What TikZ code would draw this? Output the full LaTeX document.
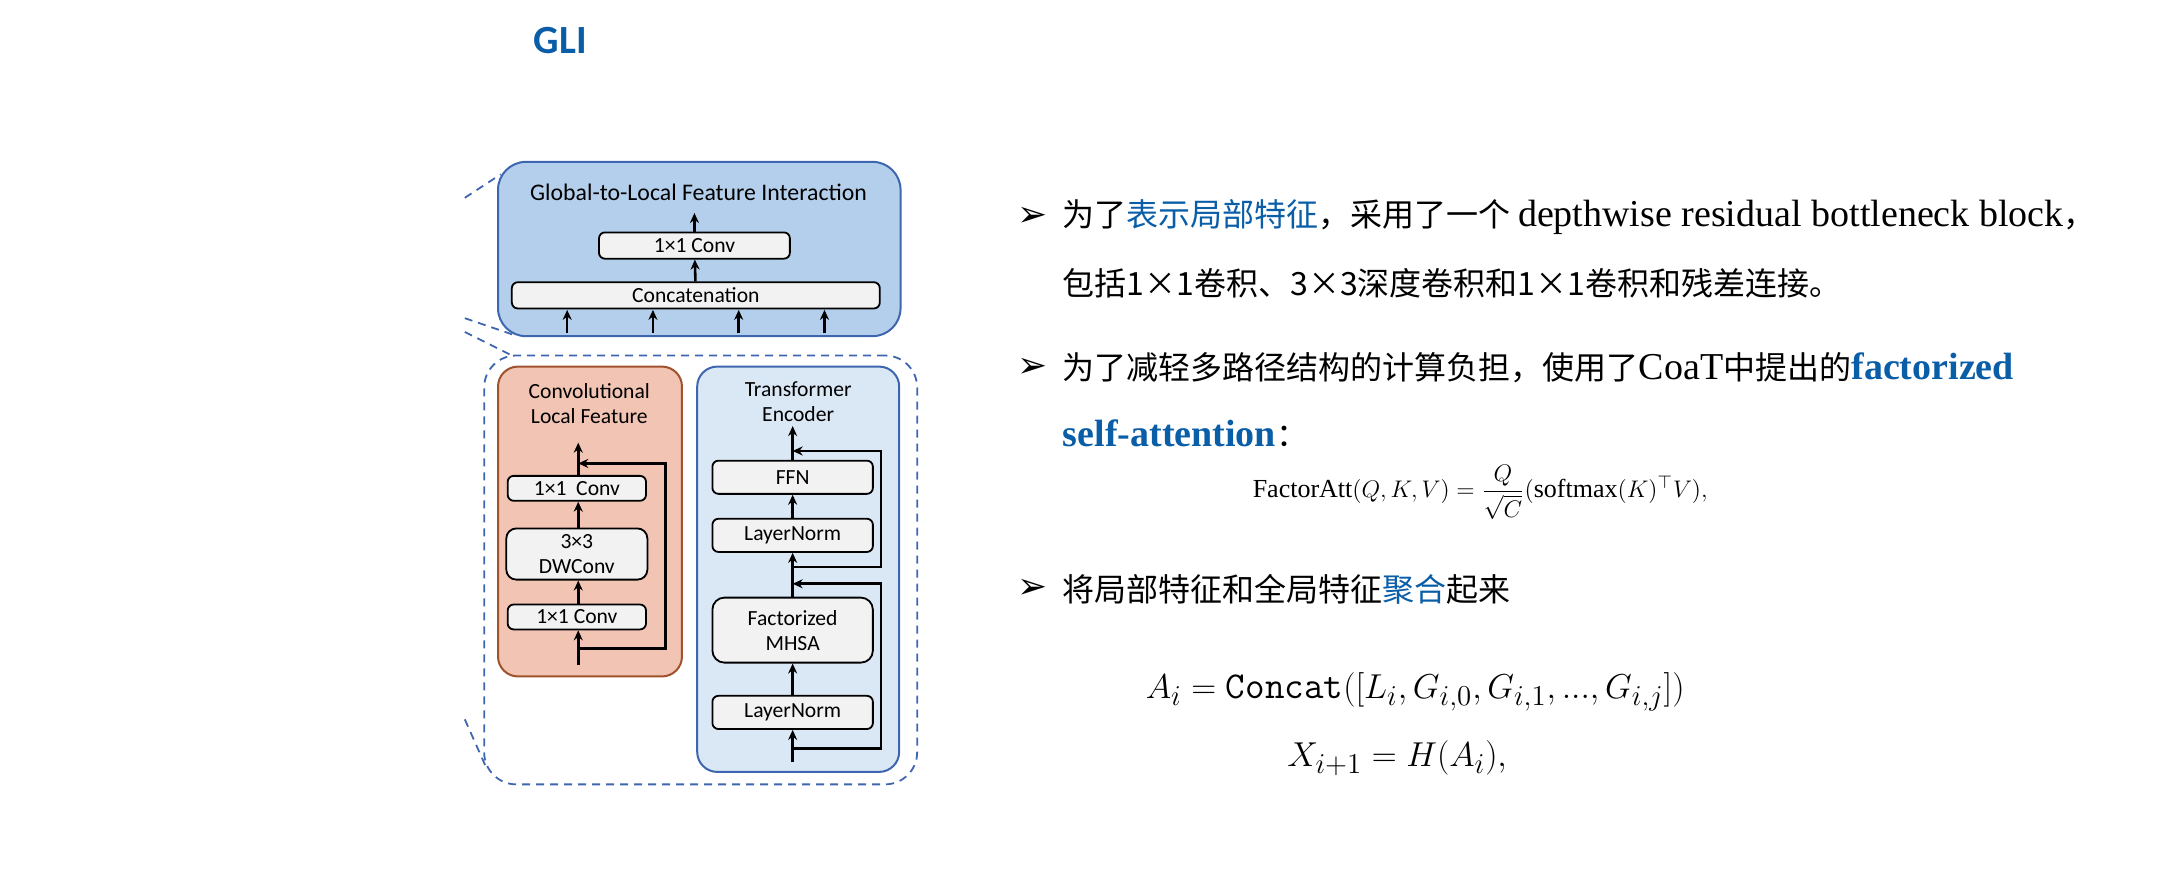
\documentclass[tikz,border=0pt]{standalone}
\usepackage{fontspec}
\usepackage{amsmath}
\setmainfont{Liberation Serif}
\newfontfamily\cjk{Noto Sans CJK SC}
\newfontfamily\dsans{Carlito}
\newfontfamily\bfont{DejaVu Sans}
\newcommand\latf{\rmfamily\fontsize{19}{20}\selectfont}
\usetikzlibrary{arrows.meta}
\definecolor{accent}{HTML}{0A5EA8}
\definecolor{topfill}{HTML}{B4CFEB}
\definecolor{topdraw}{HTML}{3E66B0}
\definecolor{orfill}{HTML}{F2C4B4}
\definecolor{ordraw}{HTML}{A0522D}
\definecolor{trfill}{HTML}{DAE7F5}
\definecolor{boxfill}{HTML}{F2F2F2}
\begin{document}
\begin{tikzpicture}[x=0.6915pt,y=-0.6915pt,
  blk/.style={draw=black,line width=0.9pt,fill=boxfill,rounded corners=3pt,font=\dsans\fontsize{10.8}{12.5}\selectfont,align=center,inner sep=0pt},
  flow/.style={line width=1.3pt,-{Stealth[length=5pt,width=4.5pt]}},
  dsh/.style={draw=topdraw,line width=0.9pt,dash pattern=on 4pt off 3pt},
  lbl/.style={font=\dsans\fontsize{10.8}{12.5}\selectfont,align=center,inner sep=0pt},
  txt/.style={anchor=west,inner sep=0pt,font=\cjk\fontsize{16}{18}\selectfont},
  bul/.style={anchor=west,inner sep=0pt,font=\bfont\bfseries\fontsize{18}{20}\selectfont}]
\useasboundingbox (0,0) rectangle (1560,636);
\node[font=\dsans\bfseries\fontsize{20}{22}\selectfont,text=accent] (gli) at (405,29) {GLI};
% top box
\node[draw=topdraw,line width=1pt,fill=topfill,rounded corners=14pt,minimum width=291*0.6915pt,minimum height=126*0.6915pt] (top) at (505.5,180) {};
\node[lbl,font=\dsans\fontsize{11.9}{13}\selectfont] (toptitle) at (505,139) {Global-to-Local Feature Interaction};
\node[blk,minimum width=138*0.6915pt,minimum height=19*0.6915pt] (c11) at (502,177.5) {1\texttimes1 Conv};
\node[blk,minimum width=266*0.6915pt,minimum height=19*0.6915pt] (cat) at (503,213.5) {Concatenation};
\coordinate (tout) at (502,154);
\draw[flow] (cat) -- (c11);
\draw[flow] (c11) -- (tout);
\foreach \i/\x in {1/410,2/472,3/534,4/596}{
  \coordinate (in\i) at (\x,241);
  \draw[flow] (in\i) -- (\x,224);}
% dashed connectors
\coordinate (d1a) at (336,143); \coordinate (d1b) at (362,126);
\coordinate (d2a) at (336,230); \coordinate (d2b) at (374,243);
\coordinate (d3a) at (336,240); \coordinate (d3b) at (370,257);
\coordinate (d4a) at (336,520); \coordinate (d4b) at (352,556);
\draw[dsh] (d1a) -- (d1b); \draw[dsh] (d2a) -- (d2b);
\draw[dsh] (d3a) -- (d3b); \draw[dsh] (d4a) -- (d4b);
% big dashed box
\node[dsh,rounded corners=16pt,minimum width=313*0.6915pt,minimum height=310*0.6915pt] (big) at (506.5,412) {};
% orange box
\node[draw=ordraw,line width=1pt,fill=orfill,rounded corners=10pt,minimum width=133*0.6915pt,minimum height=224*0.6915pt] (conv) at (426.5,377) {};
\node[lbl] (convt) at (426,292) {Convolutional\\Local Feature};
\node[blk,minimum width=100*0.6915pt,minimum height=18*0.6915pt] (cb3) at (417,353) {1\texttimes1\ \ Conv};
\node[blk,minimum width=102*0.6915pt,minimum height=37*0.6915pt,rounded corners=5pt] (cb2) at (417,400.5) {3\texttimes3\\DWConv};
\node[blk,minimum width=100*0.6915pt,minimum height=18*0.6915pt] (cb1) at (417,446) {1\texttimes1 Conv};
\coordinate (cin) at (418,481); \coordinate (cout) at (418,320);
\coordinate (cs) at (418,469); \coordinate (ce) at (418,335);
\draw[flow] (cin) -- (cb1.south -| cin);
\draw[flow] (cb1.north -| cin) -- (cb2.south -| cin);
\draw[flow] (cb2.north -| cin) -- (cb3.south -| cin);
\draw[flow] (cb3.north -| cin) -- (cout);
\draw[flow] (cs) -| (481,335) -- (ce);
% transformer box
\node[draw=topdraw,line width=1pt,fill=trfill,rounded corners=10pt,minimum width=146*0.6915pt,minimum height=293*0.6915pt] (tr) at (577,411.5) {};
\node[lbl] (trt) at (577,290) {Transformer\\Encoder};
\node[blk,minimum width=116*0.6915pt,minimum height=24*0.6915pt] (ffn) at (573,345) {FFN};
\node[blk,minimum width=116*0.6915pt,minimum height=24*0.6915pt] (ln2) at (573,387) {LayerNorm};
\node[blk,minimum width=116*0.6915pt,minimum height=47*0.6915pt,rounded corners=6pt] (mhsa) at (573,455.5) {Factorized\\MHSA};
\node[blk,minimum width=116*0.6915pt,minimum height=24*0.6915pt] (ln1) at (573,515) {LayerNorm};
\coordinate (tin) at (573,551); \coordinate (tout2) at (573,308);
\coordinate (ts1) at (573,541); \coordinate (te1) at (573,422);
\coordinate (ts2) at (573,410); \coordinate (te2) at (573,326);
\draw[flow] (tin) -- (ln1.south -| tin);
\draw[flow] (ln1.north -| tin) -- (mhsa.south -| tin);
\draw[flow] (mhsa.north -| tin) -- (ln2.south -| tin);
\draw[flow] (ln2.north -| tin) -- (ffn.south -| tin);
\draw[flow] (ffn.north -| tin) -- (tout2);
\draw[flow] (ts1) -| (637,422) -- (te1);
\draw[flow] (ts2) -| (637,326) -- (te2);
% right text
\node[bul] (b1) at (735,157) {➢};
\node[txt] (l1) at (768,157) {为了\textcolor{accent}{表示局部特征}，采用了一个 {\latf depthwise residual bottleneck block}，};
\node[txt] (l2) at (768,205) {包括1×1卷积、3×3深度卷积和1×1卷积和残差连接。};
\node[bul] (b2) at (735,266) {➢};
\node[txt] (l3) at (768,266) {为了减轻多路径结构的计算负担，使用了{\latf CoaT}中提出的\textcolor{accent}{\latf\bfseries factorized}};
\node[txt] (l4) at (768,313) {\textcolor{accent}{\latf\bfseries self-attention}：};
\node[inner sep=0pt,font=\fontsize{13}{15}\selectfont] (f1) at (1070,356) {$\mathrm{FactorAtt}(Q,K,V)=\dfrac{Q}{\sqrt{C}}(\mathrm{softmax}(K)^{\top}V),$};
\node[bul] (b3) at (735,426) {➢};
\node[txt] (l5) at (768,426) {将局部特征和全局特征\textcolor{accent}{聚合}起来};
\node[inner sep=0pt,font=\fontsize{19}{21}\selectfont] (f2) at (1023,500) {$A_i=\mathtt{Concat}([L_i,G_{i,0},G_{i,1},...,G_{i,j}])$};
\node[inner sep=0pt,font=\fontsize{19}{21}\selectfont] (f3) at (1010,548) {$X_{i+1}=H(A_i),$};
\end{tikzpicture}
\end{document}
